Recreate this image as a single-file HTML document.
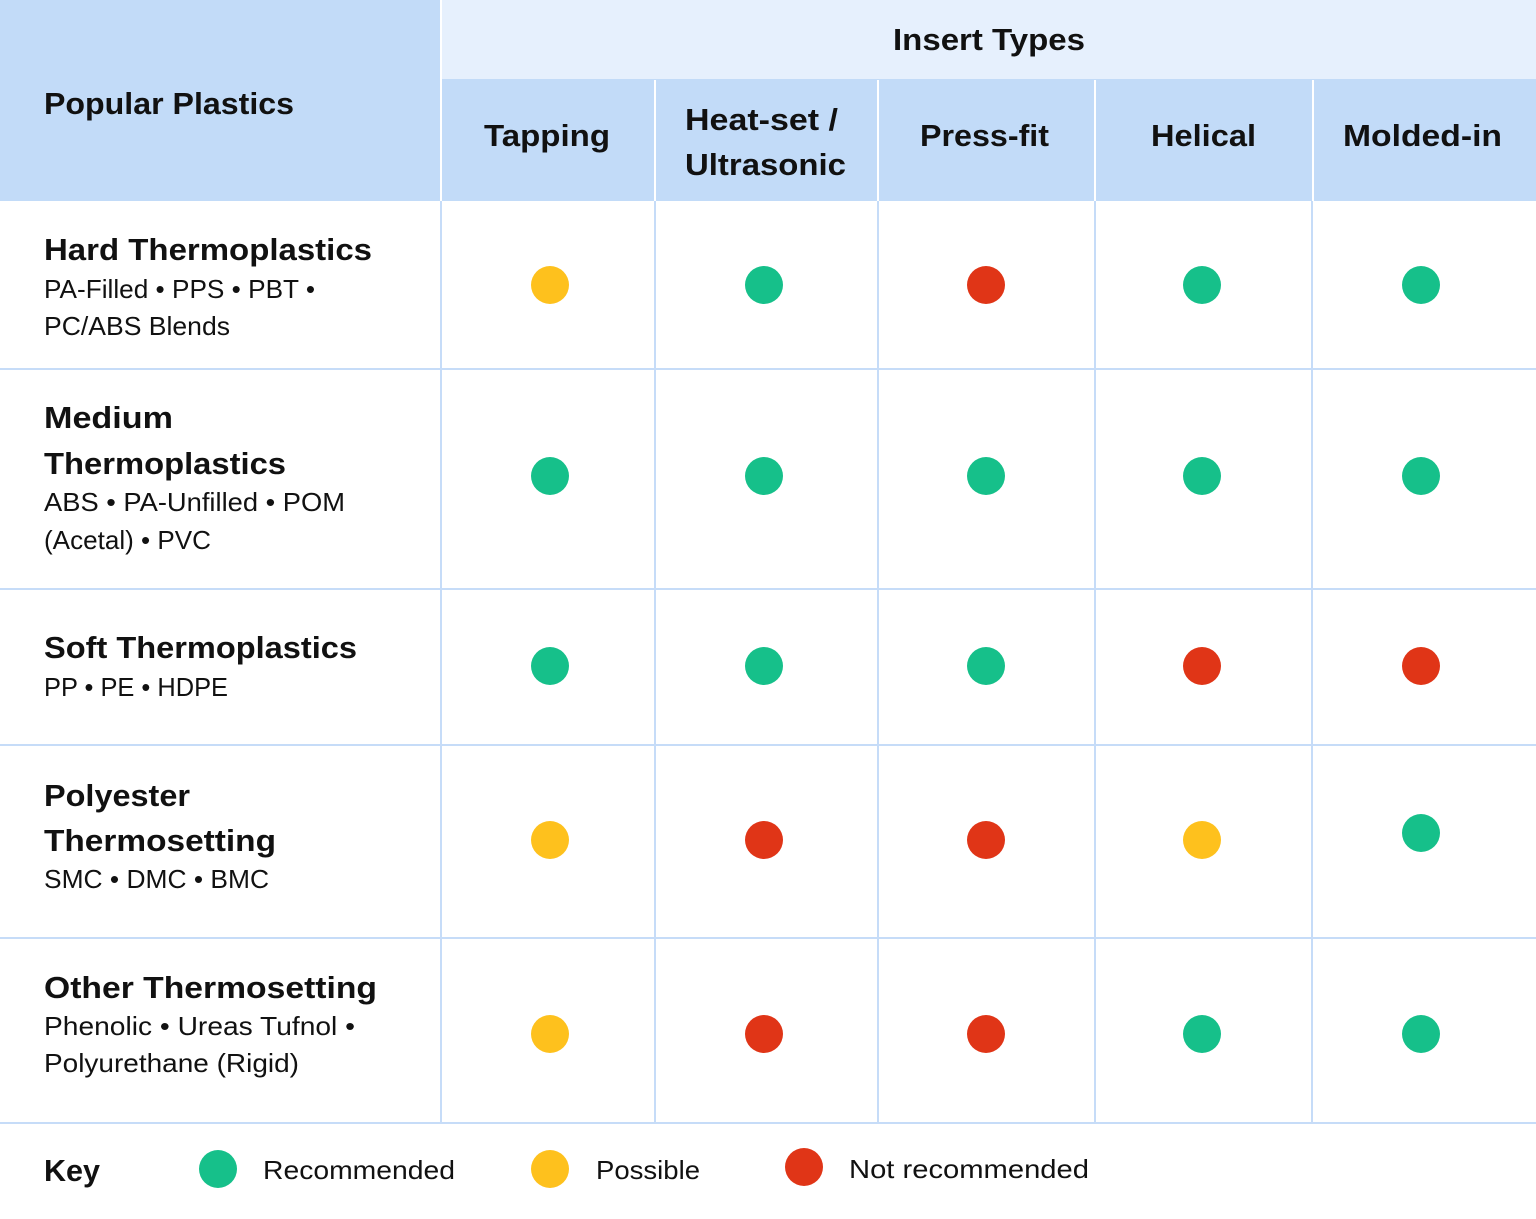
<!DOCTYPE html>
<html><head><meta charset="utf-8"><style>
html,body{margin:0;padding:0;background:#fff}
svg{display:block}
text{font-family:"Liberation Sans",sans-serif;fill:#111}
.h{font-size:31px;font-weight:bold}
.t{font-size:31px;font-weight:bold}
.s{font-size:26px}
</style></head><body>
<svg width="1536" height="1219" viewBox="0 0 1536 1219" xmlns="http://www.w3.org/2000/svg">
<rect x="0" y="0" width="1536" height="1219" fill="#fff"/>
<rect x="0" y="0" width="440" height="201" fill="#c2dbf8"/>
<rect x="440" y="0" width="1096" height="79" fill="#e6f0fd"/>
<rect x="440" y="79" width="1096" height="122" fill="#c2dbf8"/>
<g stroke="#fff" stroke-width="2">
<line x1="441" y1="0" x2="441" y2="201"/>
<line x1="655" y1="80" x2="655" y2="201"/>
<line x1="878" y1="80" x2="878" y2="201"/>
<line x1="1095" y1="80" x2="1095" y2="201"/>
<line x1="1313" y1="80" x2="1313" y2="201"/>
</g>
<g stroke="#c6dcf8" stroke-width="2">
<line x1="441" y1="201" x2="441" y2="1123"/>
<line x1="655" y1="201" x2="655" y2="1123"/>
<line x1="878" y1="201" x2="878" y2="1123"/>
<line x1="1095" y1="201" x2="1095" y2="1123"/>
<line x1="1312" y1="201" x2="1312" y2="1123"/>
<line x1="0" y1="369" x2="1536" y2="369"/>
<line x1="0" y1="589" x2="1536" y2="589"/>
<line x1="0" y1="745" x2="1536" y2="745"/>
<line x1="0" y1="938" x2="1536" y2="938"/>
<line x1="0" y1="1123" x2="1536" y2="1123"/>
</g>
<g lengthAdjust="spacingAndGlyphs">
<text class="h" x="44" y="114" textLength="250" lengthAdjust="spacingAndGlyphs">Popular Plastics</text>
<text class="h" x="893" y="50" textLength="192" lengthAdjust="spacingAndGlyphs">Insert Types</text>
<text class="h" x="484" y="146" textLength="126" lengthAdjust="spacingAndGlyphs">Tapping</text>
<text class="h" x="685" y="130" textLength="153" lengthAdjust="spacingAndGlyphs">Heat-set /</text>
<text class="h" x="685" y="175" textLength="161" lengthAdjust="spacingAndGlyphs">Ultrasonic</text>
<text class="h" x="920" y="146" textLength="129" lengthAdjust="spacingAndGlyphs">Press-fit</text>
<text class="h" x="1151" y="146" textLength="105" lengthAdjust="spacingAndGlyphs">Helical</text>
<text class="h" x="1343" y="146" textLength="159" lengthAdjust="spacingAndGlyphs">Molded-in</text>

<text class="t" x="44" y="260" textLength="328" lengthAdjust="spacingAndGlyphs">Hard Thermoplastics</text>
<text class="s" x="44" y="298" textLength="271" lengthAdjust="spacingAndGlyphs">PA-Filled • PPS • PBT •</text>
<text class="s" x="44" y="335" textLength="186" lengthAdjust="spacingAndGlyphs">PC/ABS Blends</text>

<text class="t" x="44" y="428" textLength="129" lengthAdjust="spacingAndGlyphs">Medium</text>
<text class="t" x="44" y="474" textLength="242" lengthAdjust="spacingAndGlyphs">Thermoplastics</text>
<text class="s" x="44" y="511" textLength="301" lengthAdjust="spacingAndGlyphs">ABS • PA-Unfilled • POM</text>
<text class="s" x="44" y="549" textLength="167" lengthAdjust="spacingAndGlyphs">(Acetal) • PVC</text>

<text class="t" x="44" y="658" textLength="313" lengthAdjust="spacingAndGlyphs">Soft Thermoplastics</text>
<text class="s" x="44" y="696" textLength="184" lengthAdjust="spacingAndGlyphs">PP • PE • HDPE</text>

<text class="t" x="44" y="806" textLength="146" lengthAdjust="spacingAndGlyphs">Polyester</text>
<text class="t" x="44" y="851" textLength="232" lengthAdjust="spacingAndGlyphs">Thermosetting</text>
<text class="s" x="44" y="888" textLength="225" lengthAdjust="spacingAndGlyphs">SMC • DMC • BMC</text>

<text class="t" x="44" y="998" textLength="333" lengthAdjust="spacingAndGlyphs">Other Thermosetting</text>
<text class="s" x="44" y="1035" textLength="311" lengthAdjust="spacingAndGlyphs">Phenolic • Ureas Tufnol •</text>
<text class="s" x="44" y="1072" textLength="255" lengthAdjust="spacingAndGlyphs">Polyurethane (Rigid)</text>
</g>
<g>
<circle cx="550" cy="285" r="19" fill="#fec11d"/>
<circle cx="764" cy="285" r="19" fill="#16c08a"/>
<circle cx="986" cy="285" r="19" fill="#e03517"/>
<circle cx="1202" cy="285" r="19" fill="#16c08a"/>
<circle cx="1421" cy="285" r="19" fill="#16c08a"/>

<circle cx="550" cy="476" r="19" fill="#16c08a"/>
<circle cx="764" cy="476" r="19" fill="#16c08a"/>
<circle cx="986" cy="476" r="19" fill="#16c08a"/>
<circle cx="1202" cy="476" r="19" fill="#16c08a"/>
<circle cx="1421" cy="476" r="19" fill="#16c08a"/>

<circle cx="550" cy="666" r="19" fill="#16c08a"/>
<circle cx="764" cy="666" r="19" fill="#16c08a"/>
<circle cx="986" cy="666" r="19" fill="#16c08a"/>
<circle cx="1202" cy="666" r="19" fill="#e03517"/>
<circle cx="1421" cy="666" r="19" fill="#e03517"/>

<circle cx="550" cy="840" r="19" fill="#fec11d"/>
<circle cx="764" cy="840" r="19" fill="#e03517"/>
<circle cx="986" cy="840" r="19" fill="#e03517"/>
<circle cx="1202" cy="840" r="19" fill="#fec11d"/>
<circle cx="1421" cy="833" r="19" fill="#16c08a"/>

<circle cx="550" cy="1034" r="19" fill="#fec11d"/>
<circle cx="764" cy="1034" r="19" fill="#e03517"/>
<circle cx="986" cy="1034" r="19" fill="#e03517"/>
<circle cx="1202" cy="1034" r="19" fill="#16c08a"/>
<circle cx="1421" cy="1034" r="19" fill="#16c08a"/>
</g>

<text class="t" x="44" y="1181" textLength="56" lengthAdjust="spacingAndGlyphs">Key</text>
<circle cx="218" cy="1169" r="19" fill="#16c08a"/>
<text class="s" x="263" y="1179" textLength="192" lengthAdjust="spacingAndGlyphs">Recommended</text>
<circle cx="550" cy="1169" r="19" fill="#fec11d"/>
<text class="s" x="596" y="1179" textLength="104" lengthAdjust="spacingAndGlyphs">Possible</text>
<circle cx="804" cy="1167" r="19" fill="#e03517"/>
<text class="s" x="849" y="1178" textLength="240" lengthAdjust="spacingAndGlyphs">Not recommended</text>
</svg>
</body></html>
